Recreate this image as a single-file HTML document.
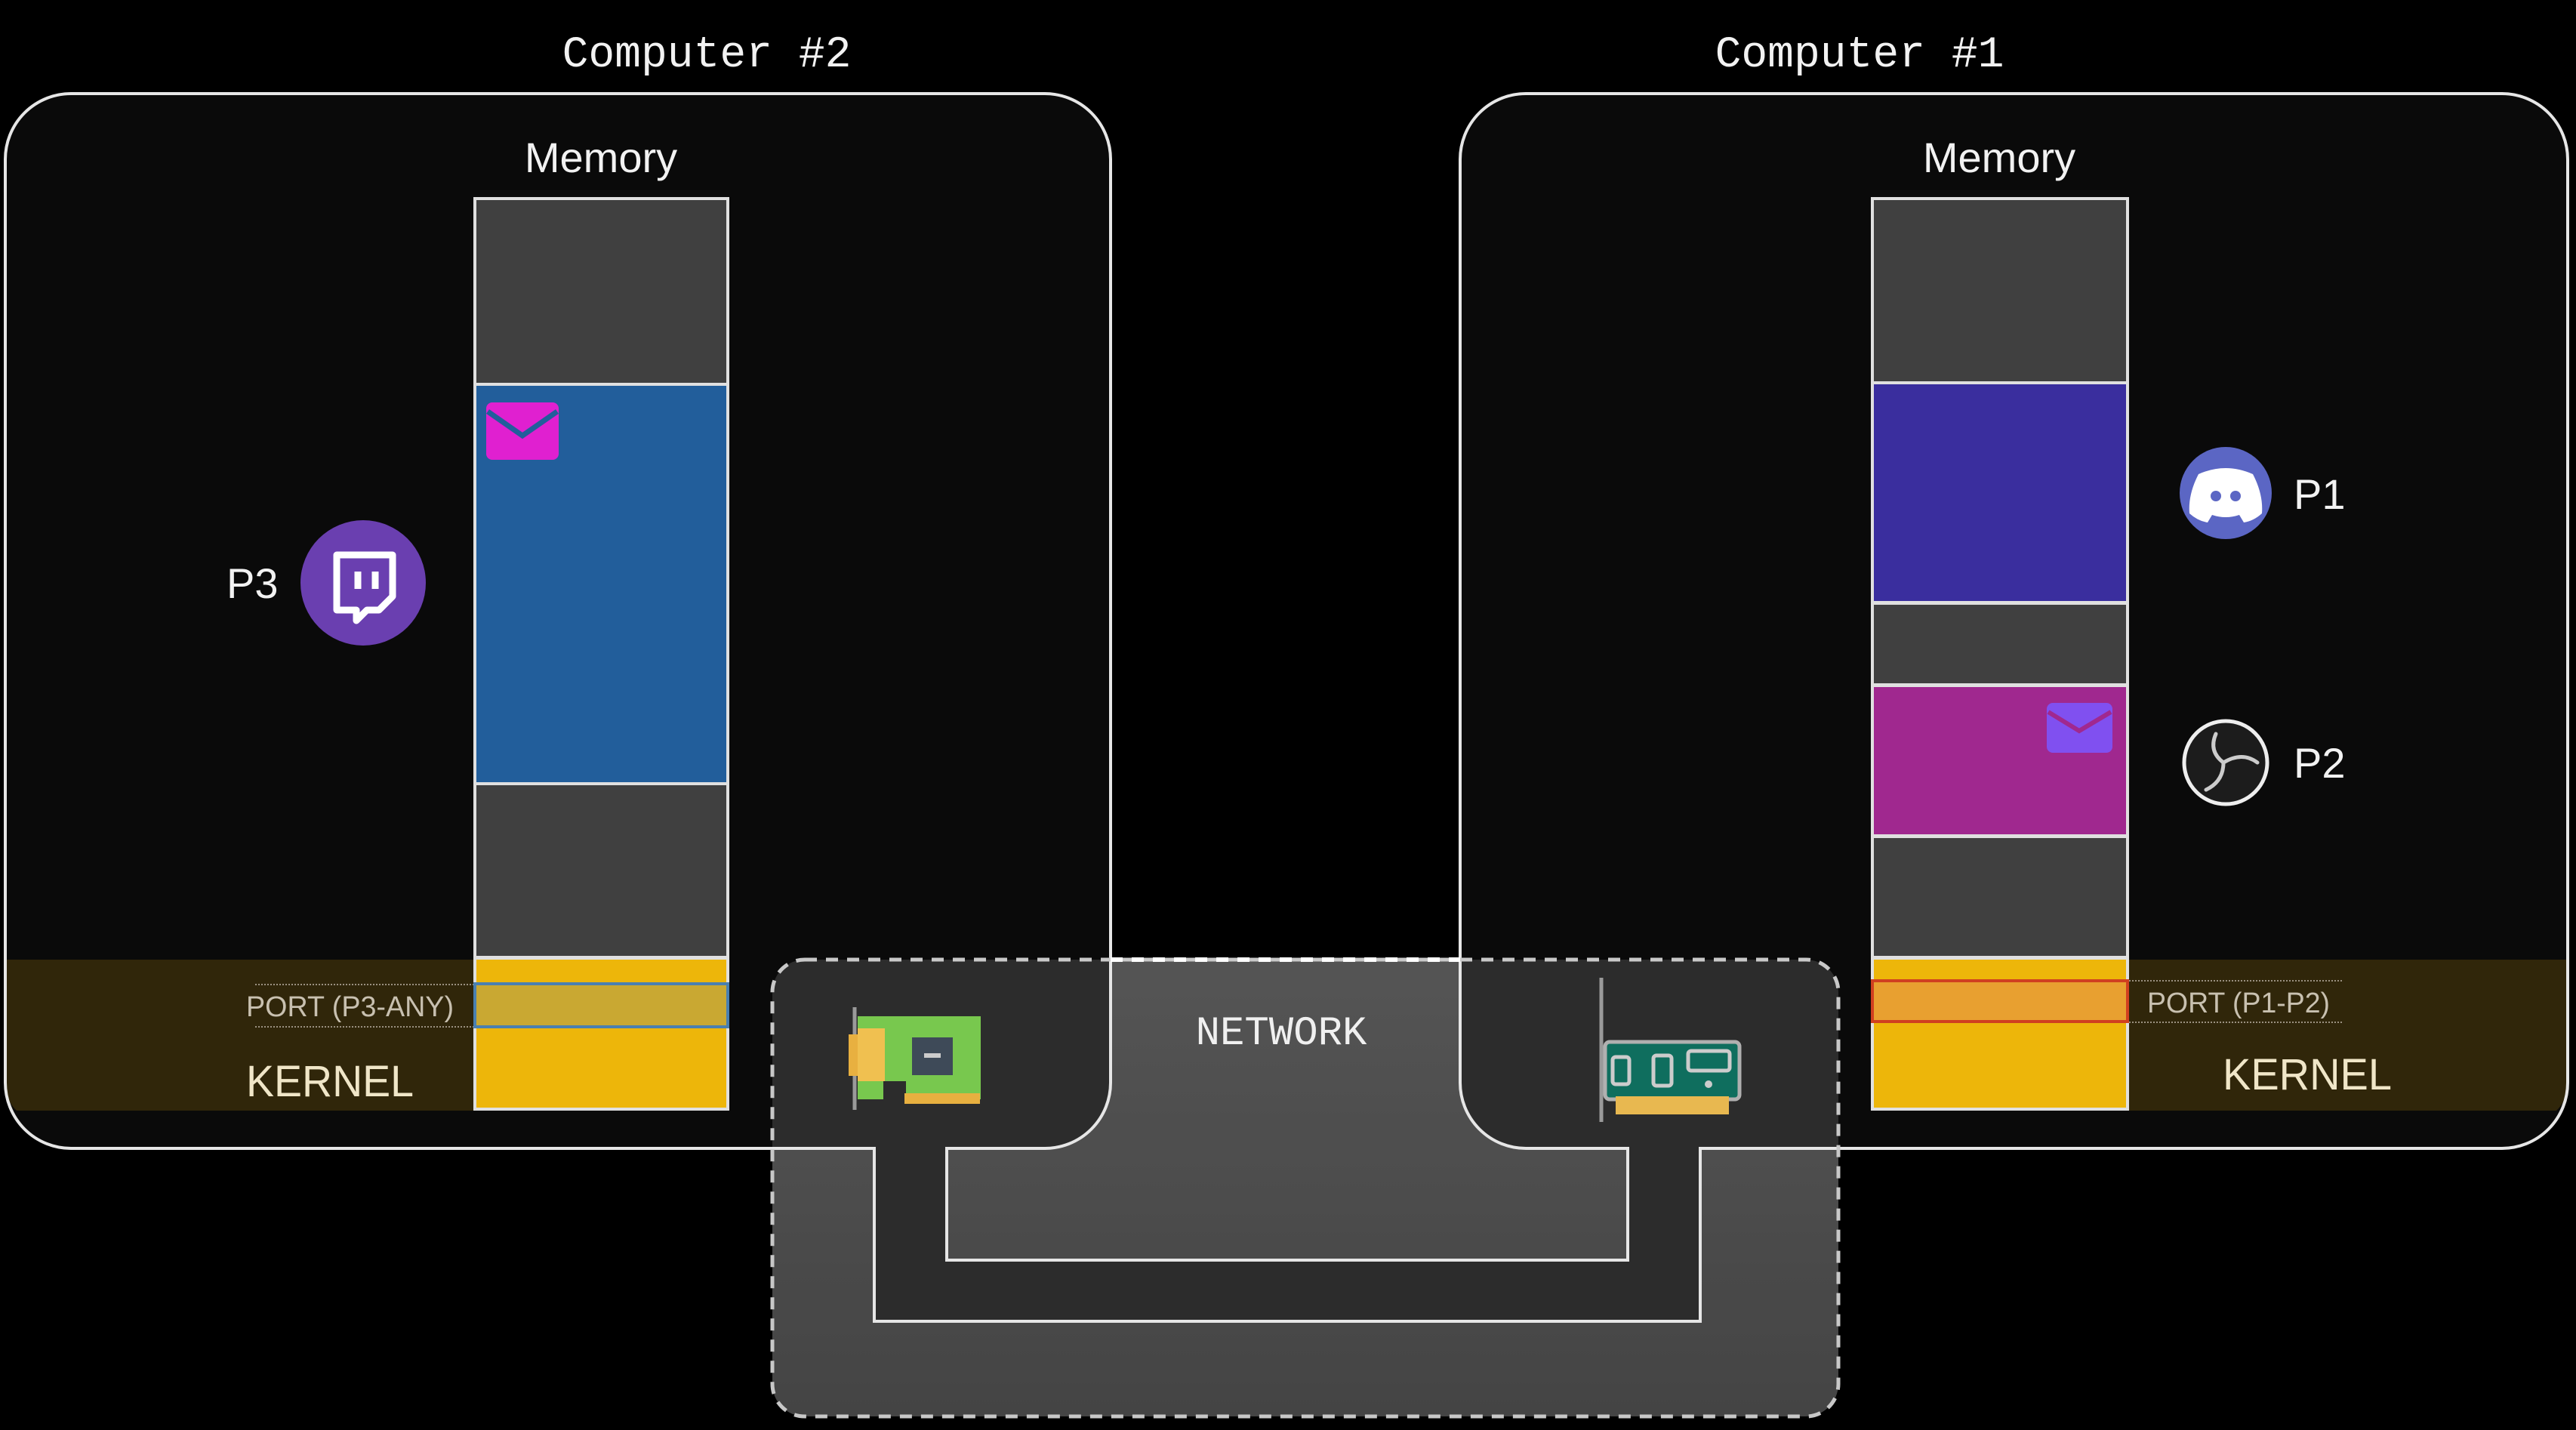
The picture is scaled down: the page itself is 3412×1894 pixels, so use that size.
<!DOCTYPE html>
<html><head><meta charset="utf-8"><style>
html,body{margin:0;padding:0;background:#000;}
svg{display:block;}
</style></head><body>
<svg width="3412" height="1894" viewBox="0 0 3412 1894" xmlns="http://www.w3.org/2000/svg">
<defs>
<linearGradient id="ng" x1="0" y1="0" x2="0" y2="1">
<stop offset="0" stop-color="#393939"/><stop offset="1" stop-color="#262626"/>
</linearGradient>
</defs>
<rect width="3412" height="1894" fill="#000"/>
<!-- network base -->
<rect x="1023" y="1271" width="1412" height="605" rx="43" fill="url(#ng)"/>
<!-- computers + channel -->
<path d="M94 124 H1384 A87 87 0 0 1 1471 211 V1434 A87 87 0 0 1 1384 1521 H1254 V1669 H2156 V1521 H2021 A87 87 0 0 1 1934 1434 V211 A87 87 0 0 1 2021 124 H3314 A87 87 0 0 1 3401 211 V1434 A87 87 0 0 1 3314 1521 H2252 V1750 H1158 V1521 H94 A87 87 0 0 1 7 1434 V211 A87 87 0 0 1 94 124 Z" fill="#0a0a0a"/>
<!-- kernel bands -->
<path d="M7 1271 H627 V1471 H22 Q10 1460 7 1440 Z" fill="#30260a"/>
<path d="M2820 1271 H3401 V1440 Q3398 1460 3386 1471 H2820 Z" fill="#30260a"/>
<!-- network overlay lightening -->
<rect x="1023" y="1271" width="1412" height="605" rx="43" fill="#fff" fill-opacity="0.14"/>
<path d="M94 124 H1384 A87 87 0 0 1 1471 211 V1434 A87 87 0 0 1 1384 1521 H1254 V1669 H2156 V1521 H2021 A87 87 0 0 1 1934 1434 V211 A87 87 0 0 1 2021 124 H3314 A87 87 0 0 1 3401 211 V1434 A87 87 0 0 1 3314 1521 H2252 V1750 H1158 V1521 H94 A87 87 0 0 1 7 1434 V211 A87 87 0 0 1 94 124 Z" fill="none" stroke="#e6e6e6" stroke-width="4"/>
<rect x="1023" y="1271" width="1412" height="605" rx="43" fill="none" stroke="#c8c8c8" stroke-width="5" stroke-dasharray="16 12"/>
<line x1="1471" y1="1271" x2="1934" y2="1271" stroke="#fff" stroke-width="6" stroke-dasharray="16 12"/>

<!-- titles -->
<g font-family="Liberation Mono, monospace" fill="#f2f2f2" font-size="58" text-anchor="middle">
<text x="936" y="88">Computer #2</text>
<text x="2463" y="88">Computer #1</text>
</g>
<g font-family="Liberation Sans, sans-serif" fill="#f2f2f2" font-size="56" text-anchor="middle">
<text x="796" y="228">Memory</text>
<text x="2648" y="228">Memory</text>
</g>

<!-- left memory column -->
<rect x="627" y="261" width="339" height="1210" fill="#e0e0e0"/>
<rect x="631" y="265" width="331" height="242" fill="#404040"/>
<rect x="631" y="511" width="331" height="525" fill="#225e9b"/>
<rect x="631" y="1040" width="331" height="226" fill="#404040"/>
<rect x="631" y="1271" width="331" height="196" fill="#edb60a"/>
<rect x="629" y="1303" width="335" height="57" fill="#c9a832" stroke="#4a80b0" stroke-width="4"/>
<rect x="644" y="533" width="96" height="76" rx="8" fill="#e020d0"/>
<polyline points="646,545 692,577 738,545" fill="none" stroke="#225e9b" stroke-width="7"/>

<!-- right memory column -->
<rect x="2478" y="261" width="342" height="1210" fill="#e0e0e0"/>
<rect x="2482" y="265" width="334" height="240" fill="#404040"/>
<rect x="2482" y="509" width="334" height="287" fill="#3a2e9e"/>
<rect x="2482" y="801" width="334" height="104" fill="#404040"/>
<rect x="2482" y="910" width="334" height="195" fill="#a0288f"/>
<rect x="2482" y="1110" width="334" height="156" fill="#404040"/>
<rect x="2482" y="1271" width="334" height="196" fill="#edb60a"/>
<rect x="2480" y="1299" width="338" height="54" fill="#e8a030" stroke="#d04020" stroke-width="4"/>
<rect x="2711" y="931" width="87" height="66" rx="8" fill="#8050f0"/>
<polyline points="2713,943 2754,968 2796,943" fill="none" stroke="#a0288f" stroke-width="6"/>

<!-- port labels -->
<g stroke="#9a9080" stroke-width="2" stroke-dasharray="2 2">
<line x1="338" y1="1304" x2="627" y2="1304"/><line x1="338" y1="1360" x2="627" y2="1360"/>
<line x1="2820" y1="1299" x2="3104" y2="1299"/><line x1="2820" y1="1354" x2="3104" y2="1354"/>
</g>
<g font-family="Liberation Sans, sans-serif" fill="#c8c0b0" font-size="38">
<text x="326" y="1346" textLength="275" lengthAdjust="spacingAndGlyphs">PORT (P3-ANY)</text>
<text x="2844" y="1341" textLength="242" lengthAdjust="spacingAndGlyphs">PORT (P1-P2)</text>
</g>
<g font-family="Liberation Sans, sans-serif" fill="#f0e6c8" font-size="58">
<text x="326" y="1452" textLength="222" lengthAdjust="spacingAndGlyphs">KERNEL</text>
<text x="2944" y="1443" textLength="224" lengthAdjust="spacingAndGlyphs">KERNEL</text>
</g>

<!-- process labels -->
<g font-family="Liberation Sans, sans-serif" fill="#f2f2f2" font-size="56">
<text x="300" y="792">P3</text>
<text x="3038" y="674">P1</text>
<text x="3038" y="1030">P2</text>
</g>
<circle cx="481" cy="772" r="83" fill="#6a3fb0"/>
<path d="M446 735 H520 V790 L502 808 H486 L472 822 V808 H446 Z" fill="none" stroke="#fff" stroke-width="9" stroke-linejoin="round"/>
<line x1="474" y1="757" x2="474" y2="780" stroke="#fff" stroke-width="9"/>
<line x1="497" y1="757" x2="497" y2="780" stroke="#fff" stroke-width="9"/>
<circle cx="2948" cy="653" r="61" fill="#5b66c4"/>
<path d="M2912 628 Q2948 612 2984 628 Q2998 655 2996 680 Q2985 690 2972 692 L2966 682 Q2948 688 2930 682 L2924 692 Q2911 690 2900 680 Q2898 655 2912 628 Z" fill="#fff"/>
<circle cx="2935" cy="657" r="7" fill="#5b66c4"/>
<circle cx="2961" cy="657" r="7" fill="#5b66c4"/>
<circle cx="2948" cy="1010" r="55" fill="#1c1c1c" stroke="#eee" stroke-width="5"/>
<g fill="none" stroke="#ccc" stroke-width="5" stroke-linecap="round">
<path d="M2935 972 Q2925 995 2945 1010"/>
<path d="M2945 1010 Q2970 995 2990 1010"/>
<path d="M2945 1010 Q2945 1035 2922 1046"/>
</g>

<text x="1697" y="1383" font-family="Liberation Mono, monospace" font-size="54" fill="#f0f0f0" text-anchor="middle">NETWORK</text>

<g>
<line x1="1132" y1="1334" x2="1132" y2="1470" stroke="#9a9a9a" stroke-width="5"/>
<path d="M1136 1346 H1299 V1456 H1200 V1432 H1170 V1456 H1136 Z" fill="#78c84e"/>
<rect x="1198" y="1448" width="100" height="14" fill="#e8b040"/>
<rect x="1124" y="1370" width="40" height="55" fill="#e8b040"/>
<rect x="1136" y="1362" width="36" height="70" fill="#f0c050"/>
<rect x="1208" y="1374" width="54" height="50" fill="#3e4a58"/>
<rect x="1224" y="1395" width="22" height="6" fill="#ccc"/>
</g>
<g>
<line x1="2121" y1="1295" x2="2121" y2="1486" stroke="#9a9a9a" stroke-width="5"/>
<rect x="2126" y="1380" width="178" height="76" rx="6" fill="#0f6e5e" stroke="#b0b0b0" stroke-width="5"/>
<rect x="2140" y="1452" width="150" height="24" fill="#e8b850"/>
<rect x="2136" y="1400" width="22" height="36" rx="4" fill="none" stroke="#ccc" stroke-width="5"/>
<rect x="2190" y="1398" width="24" height="40" rx="4" fill="none" stroke="#ccc" stroke-width="5"/>
<rect x="2236" y="1392" width="55" height="26" rx="4" fill="none" stroke="#ccc" stroke-width="5"/>
<circle cx="2263" cy="1436" r="5" fill="#ccc"/>
</g>
</svg>
</body></html>
